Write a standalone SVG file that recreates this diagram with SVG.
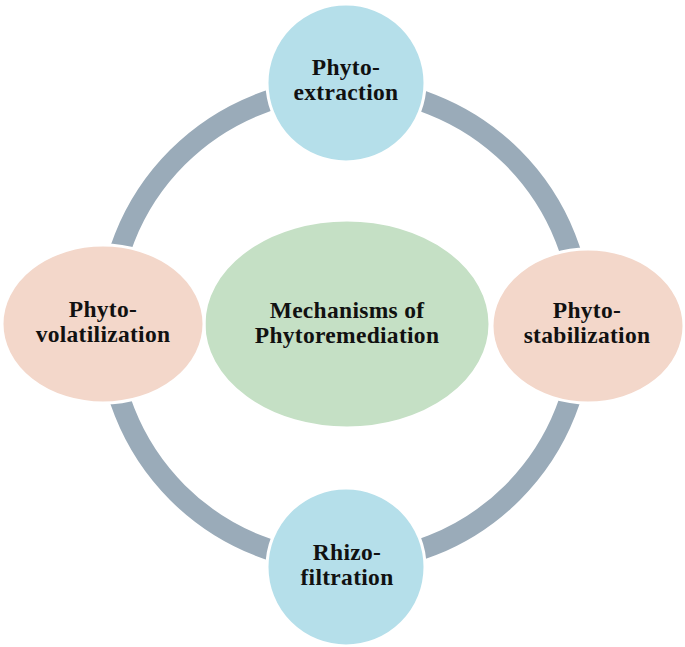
<svg xmlns="http://www.w3.org/2000/svg" width="685" height="647" viewBox="0 0 685 647">
<style>
.node{stroke:#ffffff;stroke-width:3}
.blue{fill:#b5dfea}
.peach{fill:#f3d7ca}
.green{fill:#c5e0c5}
.t{font-family:"Liberation Serif","Times New Roman",serif;font-weight:bold;font-size:23.5px;letter-spacing:0.3px;fill:#111111;text-anchor:middle}
</style>
<rect width="685" height="647" fill="#ffffff"/>
<g id="connectors">
<circle cx="345" cy="325" r="237" fill="none" stroke="#9aabb9" stroke-width="21"/>
</g>
<g id="center">
<ellipse class="node green" cx="347" cy="324" rx="143" ry="104"/>
<text class="t" x="347" y="318">Mechanisms of</text>
<text class="t" x="347" y="343">Phytoremediation</text>
</g>
<g id="top">
<circle class="node blue" cx="346" cy="83" r="79"/>
<text class="t" x="346" y="75">Phyto-</text>
<text class="t" x="346" y="100">extraction</text>
</g>
<g id="bottom">
<circle class="node blue" cx="346" cy="567" r="79"/>
<text class="t" x="347" y="560">Rhizo-</text>
<text class="t" x="347" y="585">filtration</text>
</g>
<g id="left">
<ellipse class="node peach" cx="103" cy="324" rx="101" ry="79"/>
<text class="t" x="103" y="317">Phyto-</text>
<text class="t" x="103" y="342">volatilization</text>
</g>
<g id="right">
<ellipse class="node peach" cx="588" cy="326" rx="96" ry="77"/>
<text class="t" x="587" y="318">Phyto-</text>
<text class="t" x="587" y="343">stabilization</text>
</g>
</svg>
